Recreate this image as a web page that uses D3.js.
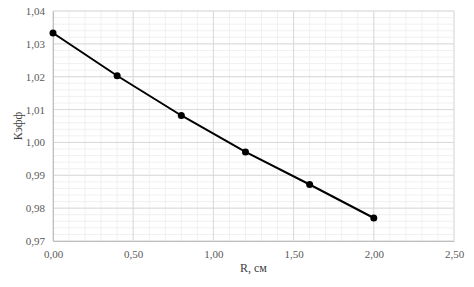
<!DOCTYPE html>
<html lang="ru">
<head>
<meta charset="utf-8">
<script src="https://cdnjs.cloudflare.com/ajax/libs/d3/7.8.5/d3.min.js"></script>
<style>
  body { margin: 0; background: #fff; }
  text { font-family: "Liberation Serif", serif; }
  .tick text { fill: #595959; font-size: 11px; }
</style>
</head>
<body>
<div id="vis"></div>
<script>
// data
var radius = [0, 0.4, 0.8, 1.2, 1.6, 2.0];
var keff = [1.0333, 1.0203, 1.0082, 0.9971, 0.9872, 0.9770];
var xTicks = [0, 0.5, 1.0, 1.5, 2.0, 2.5];
var yTicks = [0.97, 0.98, 0.99, 1.00, 1.01, 1.02, 1.03, 1.04];

var width = 474, height = 287;
var margin = { top: 11, right: 20, bottom: 46, left: 53 };
var w = width - margin.left - margin.right;
var h = height - margin.top - margin.bottom;

var svg = d3.select('#vis').append('svg')
    .attr('width', width)
    .attr('height', height);

var g = svg.append('g')
    .attr('transform', 'translate(' + margin.left + ',' + margin.top + ')');

var x = d3.scaleLinear().domain([0, 2.5]).range([0, w]);
var y = d3.scaleLinear().domain([0.97, 1.04]).range([h, 0]);

var fmt = function(d) { return d3.format('.2f')(d).replace('.', ','); };

// minor grid
var xMinor = d3.range(0, 26).map(function(i) { return i / 10; });
var yMinor = d3.range(0, 36).map(function(i) { return 0.97 + i * 0.002; });

g.selectAll('.xminor').data(xMinor).enter().append('line')
    .attr('x1', function(d) { return x(d); }).attr('x2', function(d) { return x(d); })
    .attr('y1', 0).attr('y2', h)
    .attr('stroke', '#f0f0f0');
g.selectAll('.yminor').data(yMinor).enter().append('line')
    .attr('y1', function(d) { return y(d); }).attr('y2', function(d) { return y(d); })
    .attr('x1', 0).attr('x2', w)
    .attr('stroke', '#f0f0f0');

// major grid
g.selectAll('.xmajor').data(xTicks).enter().append('line')
    .attr('x1', function(d) { return x(d); }).attr('x2', function(d) { return x(d); })
    .attr('y1', 0).attr('y2', h)
    .attr('stroke', '#d9d9d9');
g.selectAll('.ymajor').data(yTicks).enter().append('line')
    .attr('y1', function(d) { return y(d); }).attr('y2', function(d) { return y(d); })
    .attr('x1', 0).attr('x2', w)
    .attr('stroke', '#d9d9d9');

// axes
var xAxis = g.append('g')
    .attr('transform', 'translate(0,' + h + ')')
    .call(d3.axisBottom(x).tickValues(xTicks).tickFormat(fmt).tickSize(0).tickPadding(9));
xAxis.select('.domain').attr('stroke', '#bfbfbf');

var yAxis = g.append('g')
    .call(d3.axisLeft(y).tickValues(yTicks).tickFormat(fmt).tickSize(0).tickPadding(8));
yAxis.select('.domain').attr('stroke', '#bfbfbf');

// line + markers
var line = d3.line()
    .x(function(d, i) { return x(radius[i]); })
    .y(function(d) { return y(d); });

g.append('path')
    .datum(keff)
    .attr('fill', 'none')
    .attr('stroke', '#000')
    .attr('stroke-width', 2)
    .attr('d', line);

g.selectAll('.dot').data(keff).enter().append('circle')
    .attr('cx', function(d, i) { return x(radius[i]); })
    .attr('cy', function(d) { return y(d); })
    .attr('r', 3.5)
    .attr('fill', '#000');

// axis titles
svg.append('text')
    .attr('x', margin.left + w / 2)
    .attr('y', 272)
    .attr('text-anchor', 'middle')
    .attr('font-size', 12)
    .attr('fill', '#404040')
    .text('R, см');

svg.append('text')
    .attr('transform', 'translate(22,' + (margin.top + h / 2) + ') rotate(-90)')
    .attr('text-anchor', 'middle')
    .attr('font-size', 12)
    .attr('fill', '#404040')
    .text('Кэфф');
</script>
</body>
</html>
